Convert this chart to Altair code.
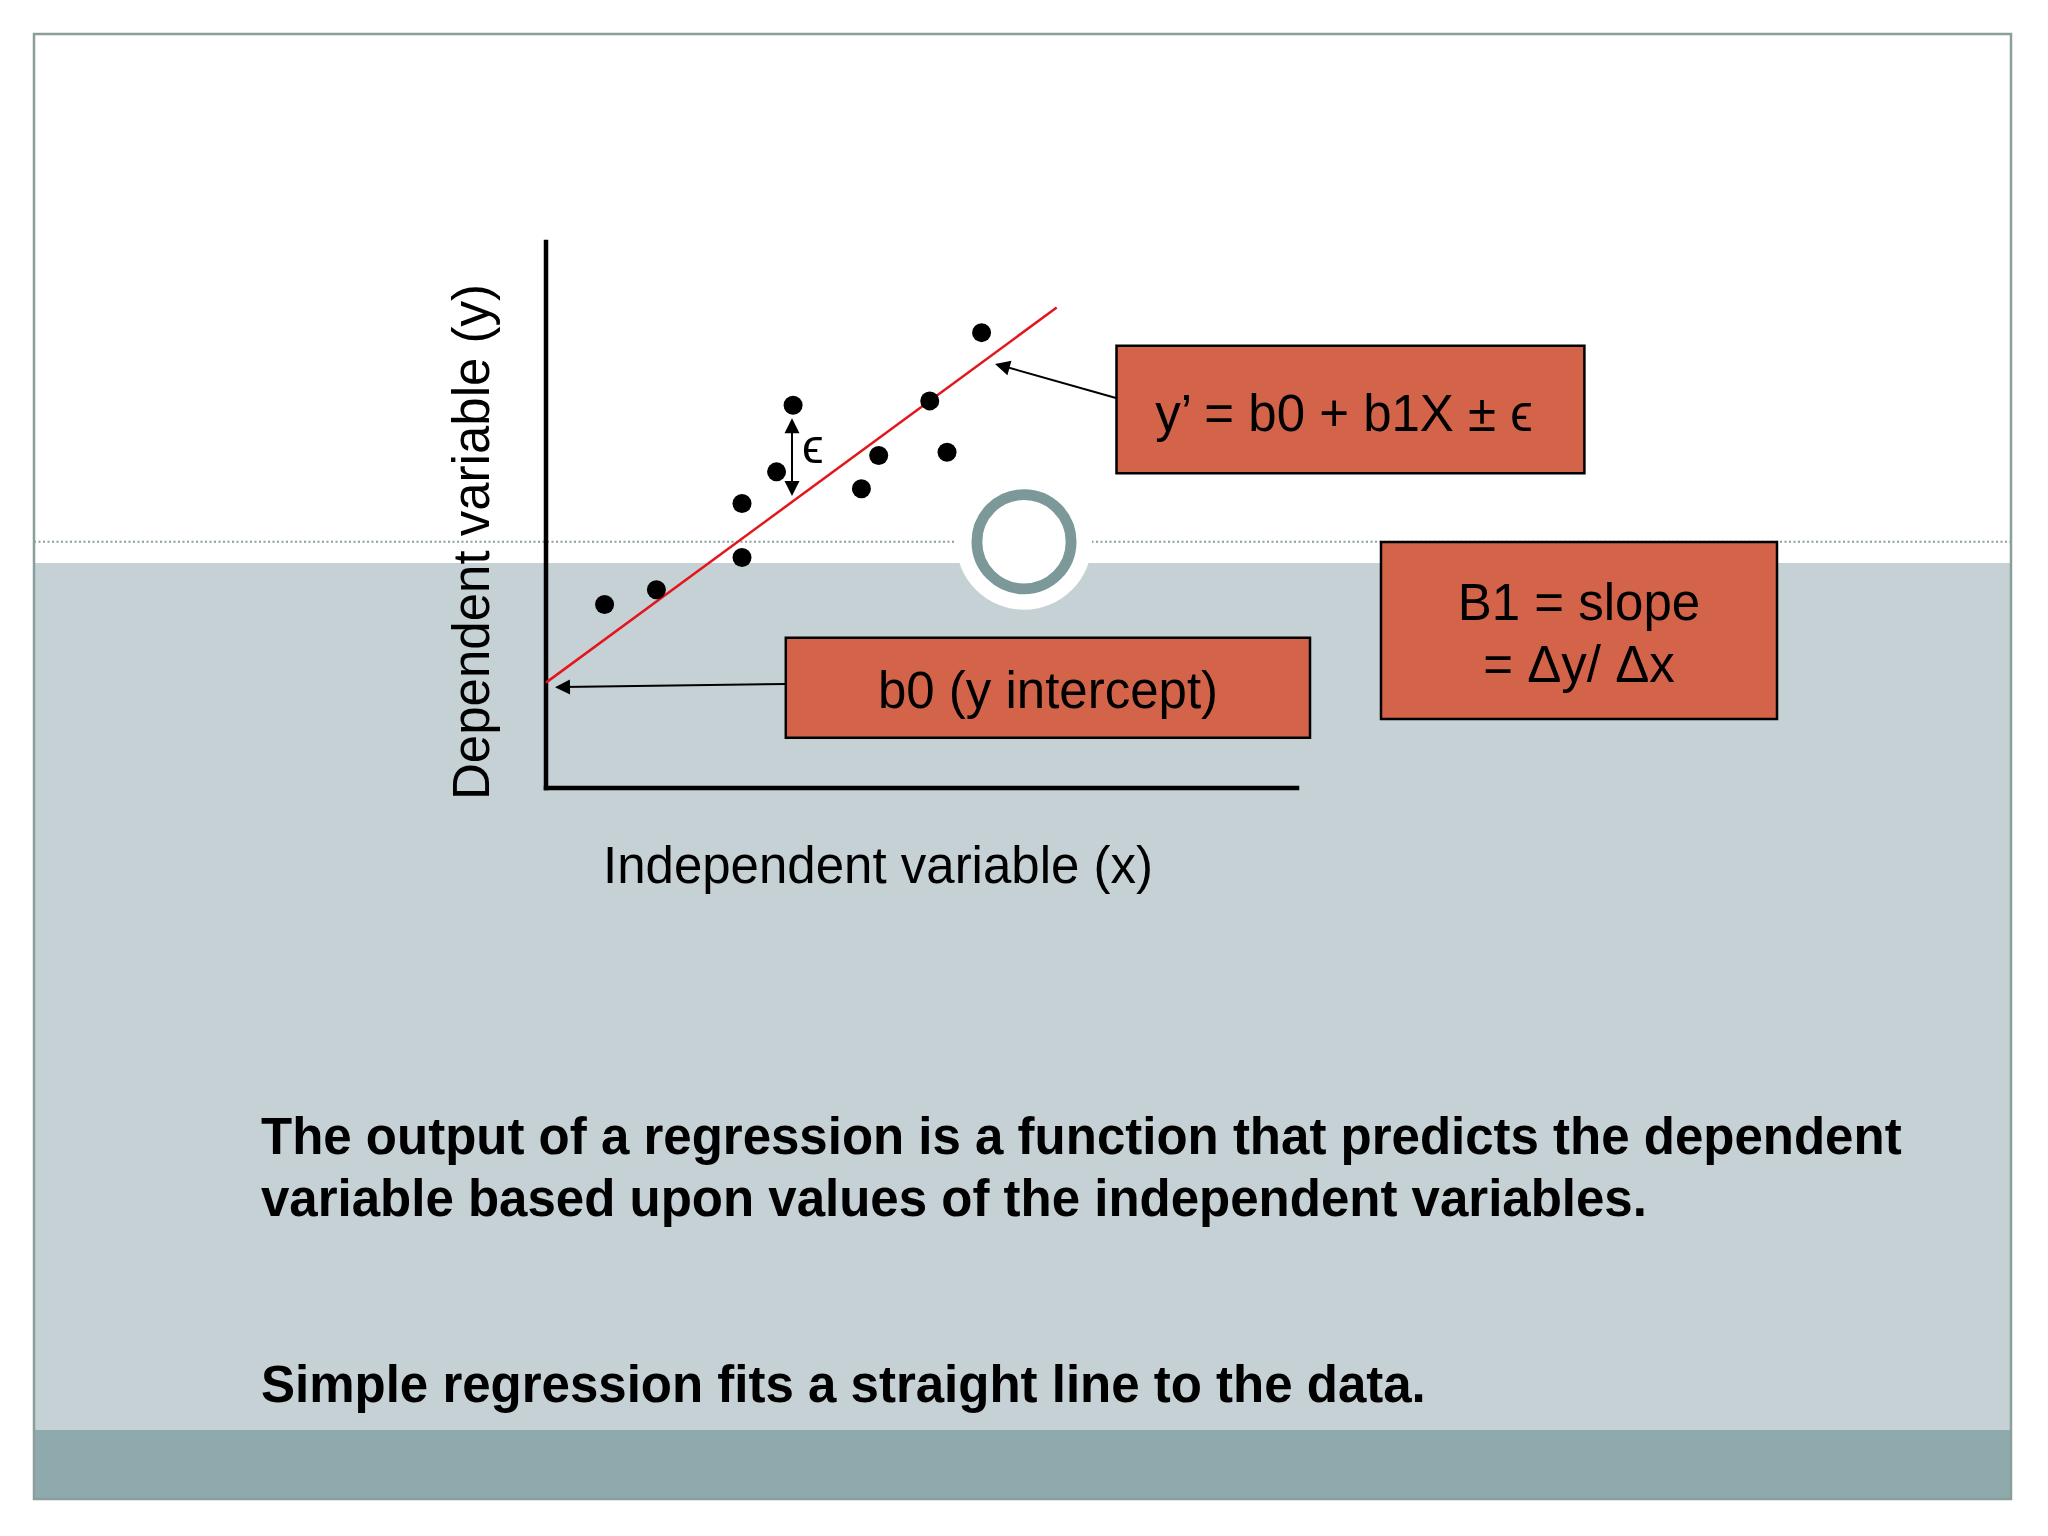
import altair as alt
import pandas as pd

# ---------------- data (data units 0..10 on both axes) ----
point_x = [0.78, 1.47, 2.61, 2.61, 3.07, 3.29, 4.20, 4.43, 5.11, 5.34, 5.80]
point_y = [3.36, 3.63, 5.21, 4.22, 5.79, 7.01, 5.48, 6.09, 7.09, 6.15, 8.34]

fit_x = [0.0, 6.80]
fit_y = [1.93, 8.80]

axis_x1 = [0, 0]
axis_y1 = [0, 0]
axis_x2 = [0, 10]
axis_y2 = [10, 0]

# ---------------- texts ----------------
y_title = "Dependent variable (y)"
x_title = "Independent variable (x)"
eq_label = "y\u2019 = b0 + b1X \u00b1 \u03f5"
intercept_label = "b0 (y intercept)"
slope_label = ["B1 = slope", "= \u0394y/ \u0394x"]
eps_label = "\u03f5"
caption_1 = "The output of a regression is a function that predicts the dependent"
caption_2 = "variable based upon values of the independent variables."
caption_3 = "Simple regression fits a straight line to the data."

FONT = "Liberation Sans"
BOX_FILL = "#d3644a"
one = pd.DataFrame({"k": [0]})

xs = alt.Scale(domain=[0, 10], range=[538, 1289], nice=False, zero=False)
ys = alt.Scale(domain=[0, 10], range=[780, 234], nice=False, zero=False)


def rect(x, y, x2, y2, **kw):
    return alt.Chart(one).mark_rect(**kw).encode(
        x=alt.value(x), x2=alt.value(x2), y=alt.value(y), y2=alt.value(y2))


def rule(x, y, x2, y2, **kw):
    return alt.Chart(one).mark_rule(**kw).encode(
        x=alt.value(x), x2=alt.value(x2), y=alt.value(y), y2=alt.value(y2))


def text(x, y, t, **kw):
    base = dict(font=FONT, fontSize=51, color="black", baseline="alphabetic")
    base.update(kw)
    return alt.Chart(one).mark_text(text=t, **base).encode(
        x=alt.value(x), y=alt.value(y))


def head(x, y, angle):
    return alt.Chart(one).mark_point(
        shape="M0,0L-0.5,1L0.5,1Z", size=900, filled=True, color="black",
        opacity=1, strokeWidth=0, angle=angle).encode(x=alt.value(x), y=alt.value(y))


def circ(x, y, size, **kw):
    return alt.Chart(one).mark_point(shape="circle", size=size, opacity=1, **kw).encode(
        x=alt.value(x), y=alt.value(y))


# ---------------- background / slide decoration ----------------
band = rect(26, 555, 2003, 1422, color="#c6d1d5")
dark_band = rect(26, 1422, 2003, 1491, color="#8eaaad")
border = rect(26, 26, 2003, 1491, fill=None, filled=False, stroke="#8a9e9c", strokeWidth=2.5)
dotted = rule(26, 533.7, 2003, 533.7, color="#8a9e9c", strokeWidth=2, strokeDash=[2, 2.5])
halo = circ(1016, 533.7, 18496, filled=True, color="white", strokeWidth=0)
ring = circ(1016, 533.7, 8874, filled=False, color="#7d9898", strokeWidth=10.8)

# ---------------- data marks ----------------
axes_df = pd.DataFrame({"x": axis_x1, "y": axis_y1, "x2": axis_x2, "y2": axis_y2})
axes = alt.Chart(axes_df).mark_rule(color="black", strokeWidth=4.5, strokeCap="square").encode(
    x=alt.X("x:Q", scale=xs, axis=None), y=alt.Y("y:Q", scale=ys, axis=None),
    x2="x2:Q", y2="y2:Q")

fit_df = pd.DataFrame({"x": fit_x, "y": fit_y})
fit = alt.Chart(fit_df).mark_line(color="#e3161b", strokeWidth=2.5).encode(
    x=alt.X("x:Q", scale=xs, axis=None), y=alt.Y("y:Q", scale=ys, axis=None))

pts_df = pd.DataFrame({"x": point_x, "y": point_y})
pts = alt.Chart(pts_df).mark_circle(size=361, color="black", opacity=1).encode(
    x=alt.X("x:Q", scale=xs, axis=None), y=alt.Y("y:Q", scale=ys, axis=None))

# ---------------- annotations ----------------
ytitle = text(481, 534, y_title, angle=270, align="center")
xtitle = text(870, 875, x_title, align="center")

eps_shaft = rule(784, 412, 784, 486, color="black", strokeWidth=2)
eps_up = head(784, 410.3, 0)
eps_down = head(784, 488, 180)
eps_text = text(794, 455, eps_label, align="left", fontSize=49)

arrow1 = rule(1108, 390, 995, 358, color="black", strokeWidth=2)
arrow1_head = head(987, 356, 285.7)
arrow2 = rule(778, 676, 555, 679, color="black", strokeWidth=2)
arrow2_head = head(547, 679.3, 269.2)

box1 = rect(1108.5, 337.7, 1576.4, 465.3, fill=BOX_FILL, stroke="black", strokeWidth=2.5)
box2 = rect(777.8, 629.7, 1302, 729.7, fill=BOX_FILL, stroke="black", strokeWidth=2.5)
box3 = rect(1373, 534, 1769, 711, fill=BOX_FILL, stroke="black", strokeWidth=2.5)

box1_text = text(1336, 423, eq_label, align="center")
box2_text = text(1040, 700, intercept_label, align="center")
box3_text = text(1571, 612, slope_label, align="center", lineHeight=62)

cap1 = text(253, 1146, caption_1, align="left", fontWeight="bold")
cap2 = text(253, 1208, caption_2, align="left", fontWeight="bold")
cap3 = text(253, 1394, caption_3, align="left", fontWeight="bold")

chart = alt.layer(
    band, dark_band, border, dotted, halo, ring,
    ytitle, xtitle, axes, fit, pts,
    eps_shaft, eps_up, eps_down, eps_text,
    arrow1, arrow1_head, arrow2, arrow2_head,
    box1, box2, box3, box1_text, box2_text, box3_text,
    cap1, cap2, cap3,
).properties(
    width=2032, height=1520, padding=0, background="white"
).configure_view(stroke=None)

chart.save("out.html", embed_options={"renderer": "svg", "actions": False})
